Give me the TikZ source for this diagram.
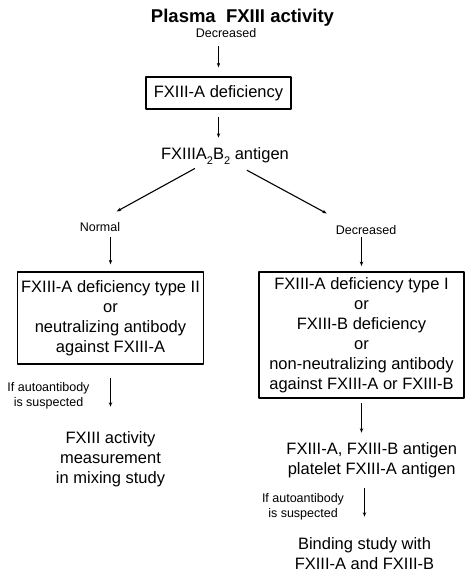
\documentclass[tikz,border=0pt]{standalone}
\usepackage{fontspec}
\setmainfont{Liberation Sans}
\usetikzlibrary{arrows.meta}
\newcommand{\lowsub}[1]{\raisebox{-.3em}{\fontsize{11}{11}\selectfont #1}}
\begin{document}
\begin{tikzpicture}[x=1pt,y=-1pt,>={Stealth[length=4.5pt,width=3.4pt]},line join=round,
	txt/.style={inner sep=0pt,align=center,font=\fontsize{16.5}{20}\selectfont},
	sml/.style={inner sep=0pt,align=center,font=\fontsize{12.5}{15}\selectfont},
	boxed/.style={txt,draw,line width=1.3pt},
	arr/.style={->,line width=1.1pt}]
		\useasboundingbox (0,0) rectangle (474,578);
		\node[inner sep=0pt,anchor=base,font=\fontsize{18.5}{22}\selectfont\bfseries] (title) at (242.5,23) {Plasma~~FXIII activity};
		\node[sml,anchor=base] (dec0) at (226,37.7) {Decreased};
		\node[boxed,minimum width=145pt,minimum height=32pt] (fa) at (218.5,93) {FXIII-A deficiency};
		\node[txt,anchor=base] (anti) at (225,159.3) {FXIIIA\lowsub{2}B\lowsub{2} antigen};
		\node[sml,anchor=base] (normal) at (100,231.7) {Normal};
		\node[sml,anchor=base] (decr) at (366,234) {Decreased};
		\node[boxed,minimum width=186pt,minimum height=92pt] (lbox) at (110.5,318) {FXIII-A deficiency type II\\or\\neutralizing antibody\\against FXIII-A};
		\node[boxed,minimum width=205pt,minimum height=126pt] (rbox) at (361.5,335) {FXIII-A deficiency type I\\or\\FXIII-B deficiency\\or\\non-neutralizing antibody\\against FXIII-A or FXIII-B};
		\node[sml,anchor=north] (ifl) at (48.5,382.7) {If autoantibody\\is suspected};
		\node[txt,anchor=north] (mix) at (110.5,431.7) {FXIII activity\\measurement\\in mixing study};
		\node[txt,anchor=north] (plat) at (371.7,442.3) {FXIII-A, FXIII-B antigen\\platelet FXIII-A antigen};
		\node[sml,anchor=north] (ifr) at (303,493.3) {If autoantibody\\is suspected};
		\node[txt,anchor=north] (bind) at (364.5,537.7) {Binding study with\\FXIII-A and FXIII-B};
		% arrows
		\draw[arr,shorten <=8.3pt,shorten >=9pt] (fa.north |- dec0.south)--(fa.north);
		\draw[arr,shorten <=7pt,shorten >=9.5pt] (fa.south)--(fa.south |- anti.north);
		\draw[arr] ([xshift=34pt,yshift=-4pt]anti.south west)--([xshift=16.7pt,yshift=11pt]normal.north);
		\draw[arr] ([xshift=-42.3pt,yshift=-5.7pt]anti.south east)--([xshift=-39.3pt,yshift=11.3pt]decr.north);
		\draw[arr,shorten <=5pt,shorten >=7pt] (lbox.north |- normal.south)--(lbox.north);
		\draw[arr,shorten <=3pt,shorten >=5.3pt] (rbox.north |- decr.south)--(rbox.north);
		\draw[arr,shorten <=13.7pt,shorten >=25pt] (lbox.south)--(mix.north);
		\draw[arr,shorten <=4.7pt,shorten >=9.6pt] (rbox.south)--(rbox.south |- plat.north);
		\draw[arr,shorten <=10pt,shorten >=21pt] (bind.north |- plat.south)--(bind.north);
\end{tikzpicture}
\end{document}
